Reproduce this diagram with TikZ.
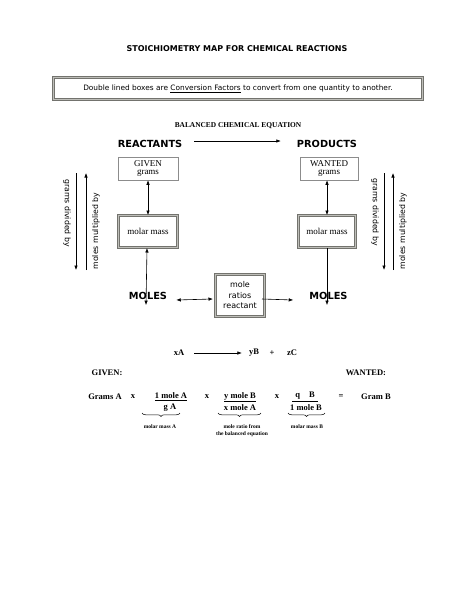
\documentclass[tikz,border=0pt]{standalone}
\usepackage{fontspec}
\setmainfont{Liberation Serif}
\newfontfamily\dvs{DejaVu Sans}
\usetikzlibrary{arrows.meta,decorations.pathreplacing}
\definecolor{boxgray}{RGB}{115,115,110}
\definecolor{boxlight}{RGB}{190,190,185}
\definecolor{thingray}{RGB}{140,140,140}
\begin{document}
\begin{tikzpicture}[x=1pt,y=-1pt,
  arr/.style={-{Latex[length=4.5pt,width=3.5pt]},line width=0.6pt},
  darr/.style={{Latex[length=4.5pt,width=3.5pt]}-{Latex[length=4.5pt,width=3.5pt]},line width=0.6pt},
  dblbox/.style={draw=boxgray,double=boxlight,double distance=0.9pt,line width=1pt,inner sep=0pt},
  thinbox/.style={draw=thingray,line width=0.5pt,inner sep=0pt},
  ser/.style={font=\fontsize{9}{10}\selectfont},
  bser/.style={font=\fontsize{8.5}{9.5}\selectfont\bfseries},
  small/.style={font=\fontsize{5.5}{7}\selectfont\bfseries,align=center},
  sans/.style={font=\dvs\fontsize{7.8}{10.5}\selectfont},
  big/.style={font=\dvs\fontsize{9.8}{11}\selectfont\bfseries},
  txt/.style={inner sep=0pt}
]
\fill[white] (0,0) rectangle (474,613);
\useasboundingbox (0,0) rectangle (474,613);

% title and note
\node[txt,font=\dvs\fontsize{8}{10}\selectfont\bfseries] (title) at (237,49) {STOICHIOMETRY MAP FOR CHEMICAL REACTIONS};
\node[dblbox,minimum width=369pt,minimum height=22pt,font=\dvs\fontsize{7.4}{9}\selectfont] (note) at (238,88.5)
  {Double lined boxes are \underline{Conversion Factors} to convert from one quantity to another.};

% balanced equation header
\node[txt,font=\fontsize{7.4}{9}\selectfont\bfseries] (bal) at (238,126) {BALANCED CHEMICAL EQUATION};
\node[txt,big] (react) at (150,144) {REACTANTS};
\node[txt,big] (prod) at (327,144) {PRODUCTS};
\draw[arr] ([xshift=12pt,yshift=3pt]react.east) -- ([xshift=-16pt,yshift=3pt]prod.west);

% grams boxes
\node[thinbox,ser,minimum width=60pt,minimum height=23pt,align=center] (given) at (148,168.5) {GIVEN\\[-2pt]grams};
\node[thinbox,ser,minimum width=58pt,minimum height=23pt,align=center] (wanted) at (329,168.5) {WANTED\\[-2pt]grams};

% molar mass boxes
\node[dblbox,ser,minimum width=59pt,minimum height=32pt] (mmL) at (148,231.5) {molar mass};
\node[dblbox,ser,minimum width=57pt,minimum height=32pt] (mmR) at (327,231.5) {molar mass};

\draw[darr] (given.south) -- (mmL.north);
\draw[darr] (wanted.south -| mmR.north) -- (mmR.north);

% moles
\node[txt,big] (molesL) at (148,296) {MOLES};
\node[txt,big] (molesR) at (328.5,296) {MOLES};
\node[dblbox,sans,minimum width=49pt,minimum height=42pt,align=center,font=\dvs\fontsize{8}{10.5}\selectfont] (ratio) at (240,295.5) {mole\\ratios\\reactant};

\draw[darr] ([xshift=-1pt]mmL.south) -- ([xshift=-2pt,yshift=-13pt]molesL.north);
\draw[arr] (mmR.south) -- ([xshift=-1.5pt,yshift=-13pt]molesR.north);
\draw[darr] ([xshift=9pt,yshift=-4pt]molesL.east) -- ([xshift=-2pt,yshift=-3.5pt]ratio.west);
\draw[arr] ([xshift=-3pt,yshift=-3.5pt]ratio.east) -- ([xshift=-16pt,yshift=-4pt]molesR.west);

% left side verticals
\coordinate (l1t) at (76,173); \coordinate (l1b) at (76,270);
\coordinate (l2t) at (86,173); \coordinate (l2b) at (86,270);
\draw[arr] (l1t) -- (l1b);
\draw[arr] (l2b) -- (l2t);
\node[txt,sans,rotate=-90] (lgd) at (67,213) {grams divided by};
\node[txt,sans,rotate=90] (lmm) at (96,231) {moles multiplied by};

% right side verticals
\coordinate (r1t) at (384,173); \coordinate (r1b) at (384,270);
\coordinate (r2t) at (393,173); \coordinate (r2b) at (393,270);
\draw[arr] (r1t) -- (r1b);
\draw[arr] (r2b) -- (r2t);
\node[txt,sans,rotate=-90] (rgd) at (375,212) {grams divided by};
\node[txt,sans,rotate=90] (rmm) at (403,231) {moles multiplied by};

% equation
\node[txt,bser] (xa) at (179,353) {xA};
\node[txt,bser] (yb) at (254,353) {yB};
\node[txt,bser] (plus) at (272,353) {+};
\node[txt,bser] (zc) at (292,353) {zC};
\draw[arr] ([xshift=10pt]xa.east) -- ([xshift=-7pt]yb.west);

\node[txt,bser] (givenlbl) at (107,373) {GIVEN:};
\node[txt,bser] (wantedlbl) at (366,373) {WANTED:};

\node[txt,bser] (gA) at (105,397) {Grams A};
\node[txt,bser] (x1) at (133,397) {x};
\node[txt,bser] (n1) at (171,397) {\underline{1 mole A}};
\node[txt,bser] (d1) at (170,408) {g A};
\node[txt,bser] (x2) at (207,397) {x};
\node[txt,bser] (n2) at (240,397) {\underline{y mole B}};
\node[txt,bser] (d2) at (240,408) {x mole A};
\node[txt,bser] (x3) at (277,397) {x};
\node[txt,bser] (n3) at (305,397) {\underline{\hspace{3pt}q\hspace{9pt}B\hspace{3pt}}};
\node[txt,bser] (d3) at (306,408) {1 mole B};
\node[txt,bser] (eq) at (341,397) {=};
\node[txt,bser] (gB) at (376,397) {Gram B};

\coordinate (b1l) at (142,413); \coordinate (b1r) at (180,413);
\coordinate (b2l) at (218,413); \coordinate (b2r) at (261,413);
\coordinate (b3l) at (288,413); \coordinate (b3r) at (325,413);
\draw[decorate,decoration={brace,mirror,amplitude=3.5pt},line width=0.5pt] (b1l) -- (b1r);
\draw[decorate,decoration={brace,mirror,amplitude=3.5pt},line width=0.5pt] (b2l) -- (b2r);
\draw[decorate,decoration={brace,mirror,amplitude=3.5pt},line width=0.5pt] (b3l) -- (b3r);

\node[txt,small] (l1) at (160,427) {molar mass A};
\node[txt,small,anchor=north] (l2) at (242,424) {mole ratio from\\the balanced equation};
\node[txt,small] (l3) at (307,427) {molar mass B};
\end{tikzpicture}
\end{document}
